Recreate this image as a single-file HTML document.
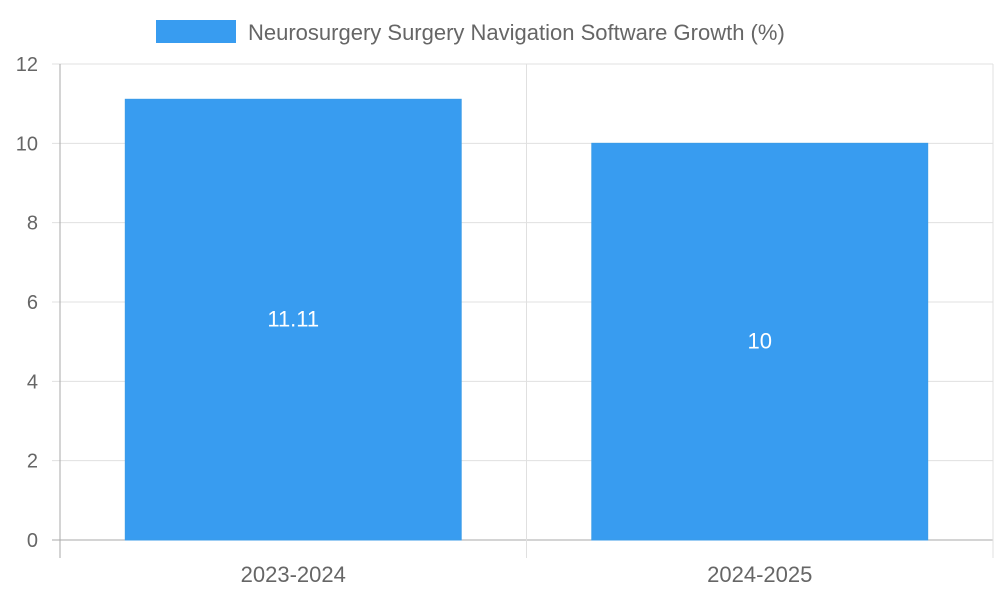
<!DOCTYPE html>
<html><head><meta charset="utf-8"><style>
html,body{margin:0;padding:0;background:#fff;}
svg{display:block;font-family:"Liberation Sans",sans-serif;}
</style></head><body>
<svg id="chart" width="1000" height="600">
<g>
<rect x="156" y="20" width="80" height="23" fill="#389cf0"/>
<text x="248" y="40" font-size="22" fill="#666">Neurosurgery Surgery Navigation Software Growth (%)</text>
</g>
<g id="grid"></g>
<g id="bars"></g>
<g id="labels"></g>
</svg>
<script>
const categories = ["2023-2024", "2024-2025"];
const values = [11.11, 10];
const valueLabels = ["11.11", "10"];
const yTicks = [0, 2, 4, 6, 8, 10, 12];

const NS = "http://www.w3.org/2000/svg";
const L = 60, R = 993, T = 64, B = 540, yMax = 12;
const y = v => B - (v / yMax) * (B - T);
const band = (R - L) / categories.length;
const xc = i => L + band * (i + 0.5);
function mk(tag, attrs, parent, text) {
  const e = document.createElementNS(NS, tag);
  for (const k in attrs) e.setAttribute(k, attrs[k]);
  if (text !== undefined) e.textContent = text;
  parent.appendChild(e);
  return e;
}
const grid = document.getElementById("grid");
const bars = document.getElementById("bars");
const labels = document.getElementById("labels");
yTicks.forEach(t => {
  const ln = mk("line", {x1: 52, x2: R, y1: y(t), y2: y(t), stroke: t === 0 ? "#aaa" : "#e0e0e0", "stroke-width": 1}, grid);
  
  
  const tx = mk("text", {x: 38, y: y(t) + 7, "font-size": 20, fill: "#666", "text-anchor": "end"}, labels, String(t));
  
  
});
for (let i = 0; i <= categories.length; i++) {
  const x = L + band * i;
  const ln = mk("line", {x1: x, x2: x, y1: T, y2: 558, stroke: i === 0 ? "#aaa" : "#e0e0e0", "stroke-width": 1}, grid);
  
  
}
categories.forEach((c, i) => {
  const w = band * 0.72;
  const r = mk("rect", {x: xc(i) - w / 2, y: y(values[i]), width: w, height: B - y(values[i]), fill: "#389cf0", stroke: "#3a9be8", "stroke-width": 1}, bars);
  
  
  const v = mk("text", {x: xc(i), y: (y(values[i]) + B) / 2 + 7, "font-size": 22, fill: "#fff", "text-anchor": "middle"}, labels, valueLabels[i]);
  
  
  const xl = mk("text", {x: xc(i), y: 582, "font-size": 22, fill: "#666", "text-anchor": "middle"}, labels, c);
  
  
});
</script>
</body></html>
